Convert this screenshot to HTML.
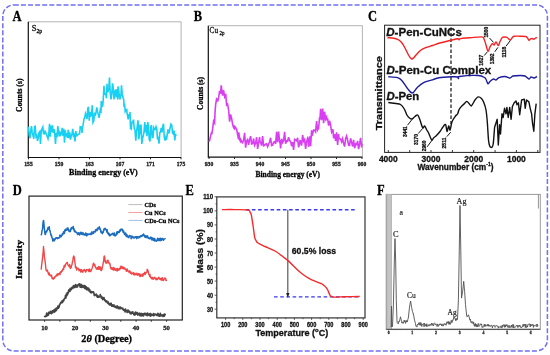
<!DOCTYPE html>
<html><head><meta charset="utf-8"><style>
html,body{margin:0;padding:0;background:#fff;}
svg{display:block;will-change:transform;filter:blur(0.3px);}
text{stroke:#111;stroke-width:0.3px;paint-order:stroke;}
</style></head><body>
<svg width="550" height="355" viewBox="0 0 550 355">
<rect width="550" height="355" fill="#fff"/>
<rect x="2.8" y="4.9" width="544.6" height="346.0" rx="11" ry="11" fill="none" stroke="#7070f2" stroke-width="1.5" stroke-dasharray="5 2.1"/>
<text transform="translate(12.5,20.6) scale(0.9,1)" font-family='"Liberation Serif", serif' font-size="13.9" font-weight="bold">A</text>
<text transform="translate(193.8,20.6) scale(0.9,1)" font-family='"Liberation Serif", serif' font-size="13.9" font-weight="bold">B</text>
<text transform="translate(367.9,20.6) scale(0.9,1)" font-family='"Liberation Serif", serif' font-size="13.9" font-weight="bold">C</text>
<text transform="translate(12.7,194.6) scale(0.9,1)" font-family='"Liberation Serif", serif' font-size="13.9" font-weight="bold">D</text>
<text transform="translate(185.6,194.6) scale(0.9,1)" font-family='"Liberation Serif", serif' font-size="13.9" font-weight="bold">E</text>
<text transform="translate(376.9,194.6) scale(0.9,1)" font-family='"Liberation Serif", serif' font-size="13.9" font-weight="bold">F</text>
<path d="M28.3,21.8 H181.1 V157.5" fill="none" stroke="#a0a0a0" stroke-width="0.8"/>
<path d="M28.3,21.8 V157.5 H181.1" fill="none" stroke="#111" stroke-width="1.2"/>
<line x1="28.5" y1="157.5" x2="28.5" y2="159.3" stroke="#111" stroke-width="0.9"/>
<text x="28.5" y="166" font-family='"Liberation Serif", serif' font-size="5.6" font-weight="bold" text-anchor="middle" fill="#222" textLength="8.4" lengthAdjust="spacingAndGlyphs">155</text>
<line x1="59.0" y1="157.5" x2="59.0" y2="159.3" stroke="#111" stroke-width="0.9"/>
<text x="59.0" y="166" font-family='"Liberation Serif", serif' font-size="5.6" font-weight="bold" text-anchor="middle" fill="#222" textLength="8.4" lengthAdjust="spacingAndGlyphs">159</text>
<line x1="89.5" y1="157.5" x2="89.5" y2="159.3" stroke="#111" stroke-width="0.9"/>
<text x="89.5" y="166" font-family='"Liberation Serif", serif' font-size="5.6" font-weight="bold" text-anchor="middle" fill="#222" textLength="8.4" lengthAdjust="spacingAndGlyphs">163</text>
<line x1="120.0" y1="157.5" x2="120.0" y2="159.3" stroke="#111" stroke-width="0.9"/>
<text x="120.0" y="166" font-family='"Liberation Serif", serif' font-size="5.6" font-weight="bold" text-anchor="middle" fill="#222" textLength="8.4" lengthAdjust="spacingAndGlyphs">167</text>
<line x1="150.5" y1="157.5" x2="150.5" y2="159.3" stroke="#111" stroke-width="0.9"/>
<text x="150.5" y="166" font-family='"Liberation Serif", serif' font-size="5.6" font-weight="bold" text-anchor="middle" fill="#222" textLength="8.4" lengthAdjust="spacingAndGlyphs">171</text>
<line x1="181.0" y1="157.5" x2="181.0" y2="159.3" stroke="#111" stroke-width="0.9"/>
<text x="181.0" y="166" font-family='"Liberation Serif", serif' font-size="5.6" font-weight="bold" text-anchor="middle" fill="#222" textLength="8.4" lengthAdjust="spacingAndGlyphs">175</text>
<text x="69.1" y="174.6" font-family='"Liberation Serif", serif' font-size="8.2" font-weight="bold" text-anchor="start" fill="#000" textLength="68.7" lengthAdjust="spacingAndGlyphs">Binding energy (eV)</text>
<text transform="translate(22.2,95.3) rotate(-90)" x="0" y="0" font-family='"Liberation Serif", serif' font-size="7.6" font-weight="bold" text-anchor="middle" fill="#000" textLength="33.5" lengthAdjust="spacingAndGlyphs">Counts (s)</text>
<text x="31.7" y="30.8" font-family='"Liberation Serif", serif' font-size="8.4" fill="#111" stroke="#111" stroke-width="0.15">S<tspan font-size="5.6" dy="2.4" dx="0.2">2p</tspan></text>
<path d="M28.5,126.6 L29.2,135.0 L30.0,138.2 L30.8,130.3 L31.5,126.1 L32.2,132.7 L33.0,135.5 L33.8,138.7 L34.5,126.7 L35.2,126.3 L36.0,136.7 L36.8,135.5 L37.5,141.0 L38.2,138.1 L39.0,132.5 L39.8,131.6 L40.5,144.0 L41.2,131.5 L42.0,128.9 L42.8,127.1 L43.5,133.5 L44.2,133.8 L45.0,131.2 L45.8,132.7 L46.5,134.4 L47.2,136.6 L48.0,138.7 L48.8,134.1 L49.5,123.7 L50.2,136.6 L51.0,125.6 L51.8,132.1 L52.5,125.3 L53.2,133.0 L54.0,129.0 L54.8,134.1 L55.5,144.0 L56.2,132.7 L57.0,137.4 L57.8,126.1 L58.5,131.5 L59.2,136.4 L60.0,132.5 L60.8,134.9 L61.5,133.5 L62.2,127.8 L63.0,135.9 L63.8,128.8 L64.5,142.7 L65.2,130.4 L66.0,136.6 L66.8,133.0 L67.5,138.0 L68.2,129.9 L69.0,138.2 L69.8,132.4 L70.5,139.6 L71.2,136.2 L72.0,133.7 L72.8,128.9 L73.5,137.0 L74.2,135.4 L75.0,141.5 L75.8,131.0 L76.5,135.9 L77.2,135.6 L78.0,134.5 L78.8,134.1 L79.5,133.9 L80.0,129.9 L80.2,126.7 L81.0,126.9 L81.8,129.1 L82.0,132.9 L82.5,127.6 L83.2,124.2 L84.0,119.0 L84.8,117.4 L85.5,113.5 L86.2,115.3 L87.0,119.2 L87.8,108.5 L88.5,106.7 L89.2,120.7 L90.0,111.9 L90.8,115.9 L91.5,115.5 L92.2,105.3 L93.0,122.3 L93.8,120.7 L94.5,112.6 L95.2,115.7 L96.0,112.7 L96.8,107.4 L97.5,111.4 L98.2,113.9 L99.0,117.8 L99.8,113.4 L100.5,107.8 L101.0,113.0 L101.2,101.1 L102.0,106.5 L102.8,105.4 L103.5,95.3 L104.0,85.7 L104.2,89.8 L105.0,94.2 L105.8,94.2 L106.5,98.1 L107.0,83.8 L107.2,89.0 L108.0,92.2 L108.8,87.9 L109.5,77.6 L110.2,92.7 L111.0,99.3 L111.8,93.4 L112.5,83.3 L113.0,85.9 L113.2,89.3 L114.0,99.4 L114.8,91.9 L115.5,89.6 L116.2,97.4 L117.0,89.2 L117.8,99.6 L118.0,86.4 L118.5,88.0 L119.2,95.0 L120.0,99.4 L120.8,96.2 L121.0,94.6 L121.5,85.4 L122.2,93.9 L123.0,97.2 L123.8,100.3 L124.0,107.0 L124.5,103.6 L125.2,111.4 L126.0,109.8 L126.8,109.6 L127.0,112.6 L127.5,115.4 L128.2,119.4 L129.0,114.2 L129.8,117.2 L130.0,111.9 L130.5,128.3 L131.2,129.0 L132.0,122.1 L132.8,122.0 L133.5,119.6 L134.2,128.4 L135.0,130.1 L135.8,140.6 L136.5,131.5 L137.2,126.8 L138.0,120.4 L138.8,139.3 L139.5,133.6 L140.0,124.6 L140.2,133.9 L141.0,124.6 L141.8,144.0 L142.5,138.8 L143.2,136.0 L144.0,132.1 L144.8,122.0 L145.5,132.3 L146.2,124.9 L147.0,136.1 L147.8,122.0 L148.5,128.3 L149.2,139.3 L150.0,141.5 L150.8,126.9 L151.5,125.0 L152.2,137.6 L153.0,137.4 L153.8,127.9 L154.5,129.4 L155.2,129.4 L156.0,126.8 L156.8,129.5 L157.5,139.5 L158.2,136.6 L159.0,143.7 L159.8,132.6 L160.5,132.3 L161.2,127.9 L162.0,132.4 L162.8,126.2 L163.5,123.8 L164.2,136.6 L165.0,140.5 L165.8,137.4 L166.5,139.9 L167.2,134.3 L168.0,129.3 L168.8,133.4 L169.5,131.1 L170.2,127.2 L171.0,124.2 L171.8,125.3 L172.5,133.0 L173.2,133.8 L174.0,130.5 L174.8,140.4 L175.5,133.9 L176.0,136.0" fill="none" stroke="#18d0f2" stroke-width="1.6" stroke-linejoin="miter"/>
<path d="M208.3,25.7 H362.4 V157.2" fill="none" stroke="#a0a0a0" stroke-width="0.8"/>
<path d="M208.3,25.7 V157.2 H362.4" fill="none" stroke="#111" stroke-width="1.2"/>
<line x1="209.0" y1="157.2" x2="209.0" y2="159.0" stroke="#111" stroke-width="0.9"/>
<text x="209.0" y="166.3" font-family='"Liberation Serif", serif' font-size="5.6" font-weight="bold" text-anchor="middle" fill="#222" textLength="8.4" lengthAdjust="spacingAndGlyphs">930</text>
<line x1="234.5" y1="157.2" x2="234.5" y2="159.0" stroke="#111" stroke-width="0.9"/>
<text x="234.5" y="166.3" font-family='"Liberation Serif", serif' font-size="5.6" font-weight="bold" text-anchor="middle" fill="#222" textLength="8.4" lengthAdjust="spacingAndGlyphs">935</text>
<line x1="260.0" y1="157.2" x2="260.0" y2="159.0" stroke="#111" stroke-width="0.9"/>
<text x="260.0" y="166.3" font-family='"Liberation Serif", serif' font-size="5.6" font-weight="bold" text-anchor="middle" fill="#222" textLength="8.4" lengthAdjust="spacingAndGlyphs">940</text>
<line x1="285.5" y1="157.2" x2="285.5" y2="159.0" stroke="#111" stroke-width="0.9"/>
<text x="285.5" y="166.3" font-family='"Liberation Serif", serif' font-size="5.6" font-weight="bold" text-anchor="middle" fill="#222" textLength="8.4" lengthAdjust="spacingAndGlyphs">945</text>
<line x1="311.0" y1="157.2" x2="311.0" y2="159.0" stroke="#111" stroke-width="0.9"/>
<text x="311.0" y="166.3" font-family='"Liberation Serif", serif' font-size="5.6" font-weight="bold" text-anchor="middle" fill="#222" textLength="8.4" lengthAdjust="spacingAndGlyphs">950</text>
<line x1="336.5" y1="157.2" x2="336.5" y2="159.0" stroke="#111" stroke-width="0.9"/>
<text x="336.5" y="166.3" font-family='"Liberation Serif", serif' font-size="5.6" font-weight="bold" text-anchor="middle" fill="#222" textLength="8.4" lengthAdjust="spacingAndGlyphs">955</text>
<line x1="362.0" y1="157.2" x2="362.0" y2="159.0" stroke="#111" stroke-width="0.9"/>
<text x="362.0" y="166.3" font-family='"Liberation Serif", serif' font-size="5.6" font-weight="bold" text-anchor="middle" fill="#222" textLength="8.4" lengthAdjust="spacingAndGlyphs">960</text>
<text x="255.5" y="176.8" font-family='"Liberation Serif", serif' font-size="7.8" font-weight="bold" text-anchor="start" fill="#000" textLength="64.5" lengthAdjust="spacingAndGlyphs">Binding energy (eV)</text>
<text transform="translate(203.2,93.5) rotate(-90)" x="0" y="0" font-family='"Liberation Serif", serif' font-size="7.5" font-weight="bold" text-anchor="middle" fill="#000" textLength="33" lengthAdjust="spacingAndGlyphs">Counts (s)</text>
<text transform="translate(209.6,32.9) scale(0.88,1)" font-family='"Liberation Serif", serif' font-size="8.3" fill="#111" stroke="#111" stroke-width="0.15">Cu<tspan font-size="5.6" dy="2.2" dx="1.6">2p</tspan></text>
<path d="M208.6,141.4 L209.6,140.7 L210.6,135.9 L211.6,132.2 L211.8,134.4 L212.6,128.8 L213.6,121.1 L214.6,123.0 L215.0,112.9 L215.6,104.9 L216.6,98.8 L217.4,99.4 L217.6,101.5 L218.6,97.9 L219.6,90.9 L220.6,93.7 L221.2,85.4 L221.6,88.4 L222.6,95.7 L223.0,92.6 L223.6,90.3 L224.6,96.7 L225.6,94.4 L225.7,93.9 L226.4,102.6 L226.6,105.1 L227.6,104.2 L228.6,110.0 L229.6,121.6 L230.6,114.4 L231.6,118.4 L232.6,124.3 L233.6,127.6 L234.3,128.5 L234.6,126.5 L235.6,127.5 L236.5,129.9 L236.6,128.9 L237.6,134.9 L238.6,139.2 L238.8,132.3 L239.6,139.7 L240.5,141.3 L240.6,139.4 L241.6,141.2 L242.6,142.6 L243.6,140.4 L244.6,132.9 L245.6,147.7 L246.6,141.0 L247.6,139.5 L248.6,144.8 L249.6,139.6 L250.6,136.2 L251.6,143.9 L252.6,143.6 L253.6,138.5 L254.6,145.3 L255.6,143.3 L256.6,137.2 L257.6,148.9 L258.6,142.8 L259.6,137.1 L260.0,141.9 L260.6,142.2 L261.6,145.6 L262.6,136.1 L263.6,145.8 L264.6,145.3 L265.6,144.3 L266.6,143.9 L267.6,146.7 L268.6,144.2 L269.6,141.8 L270.6,137.8 L271.6,145.6 L272.6,145.1 L273.6,142.2 L274.6,141.6 L275.6,143.9 L276.6,131.7 L277.6,142.1 L278.6,131.6 L279.6,141.7 L280.0,141.4 L280.6,148.4 L281.6,138.8 L282.6,142.5 L283.6,140.5 L284.6,131.8 L285.6,143.8 L286.6,140.8 L287.6,141.2 L288.6,137.1 L289.6,140.8 L290.6,141.3 L291.6,146.2 L292.6,142.2 L293.6,149.8 L294.6,139.4 L295.6,140.0 L296.6,140.9 L297.6,137.8 L298.6,147.3 L299.6,143.8 L300.0,140.0 L300.6,141.5 L301.6,145.6 L302.6,135.0 L303.6,141.1 L304.6,139.4 L305.6,148.9 L306.6,141.6 L307.6,138.1 L308.0,139.1 L308.6,146.8 L309.6,136.4 L310.6,146.2 L311.6,130.2 L312.0,135.9 L312.6,134.0 L313.6,130.1 L314.6,130.1 L315.6,131.8 L316.0,127.5 L316.6,121.0 L317.6,130.0 L318.6,128.3 L319.6,117.3 L320.0,119.3 L320.6,108.8 L321.6,120.2 L322.6,108.6 L323.0,112.6 L323.6,123.3 L324.6,111.7 L325.6,119.1 L326.6,116.9 L327.0,120.5 L327.6,118.4 L328.6,125.7 L329.6,120.8 L330.6,125.2 L331.6,132.0 L332.6,129.9 L333.0,130.0 L333.6,138.2 L334.6,134.1 L335.6,140.8 L336.6,132.3 L337.6,144.9 L338.6,134.1 L339.0,138.6 L339.6,138.6 L340.6,139.0 L341.6,141.7 L342.6,138.6 L343.6,143.6 L344.6,146.6 L345.6,138.7 L346.6,136.0 L347.6,140.1 L348.6,145.2 L349.6,145.4 L350.0,141.8 L350.6,138.3 L351.6,142.4 L352.6,146.5 L353.6,139.9 L354.6,148.2 L355.6,144.0 L356.6,144.5 L357.6,140.9 L358.6,149.1 L359.6,144.0 L360.6,137.9 L361.6,147.4 L362.0,143.7" fill="none" stroke="#d93ef2" stroke-width="1.6" stroke-linejoin="miter"/>
<rect x="384.6" y="25.2" width="155.39999999999998" height="127.2" fill="none" stroke="#222" stroke-width="1"/>
<line x1="388.3" y1="152.4" x2="388.3" y2="150.0" stroke="#222" stroke-width="0.9"/>
<line x1="409.7" y1="152.4" x2="409.7" y2="150.0" stroke="#222" stroke-width="0.9"/>
<line x1="431.0" y1="152.4" x2="431.0" y2="150.0" stroke="#222" stroke-width="0.9"/>
<line x1="452.4" y1="152.4" x2="452.4" y2="150.0" stroke="#222" stroke-width="0.9"/>
<line x1="473.7" y1="152.4" x2="473.7" y2="150.0" stroke="#222" stroke-width="0.9"/>
<line x1="495.1" y1="152.4" x2="495.1" y2="150.0" stroke="#222" stroke-width="0.9"/>
<line x1="516.4" y1="152.4" x2="516.4" y2="150.0" stroke="#222" stroke-width="0.9"/>
<line x1="537.8" y1="152.4" x2="537.8" y2="150.0" stroke="#222" stroke-width="0.9"/>
<text x="388.3" y="161.6" font-family='"Liberation Sans", sans-serif' font-size="8.3" font-weight="bold" text-anchor="middle" fill="#111" textLength="18.8" lengthAdjust="spacingAndGlyphs">4000</text>
<text x="431.0" y="161.6" font-family='"Liberation Sans", sans-serif' font-size="8.3" font-weight="bold" text-anchor="middle" fill="#111" textLength="18.8" lengthAdjust="spacingAndGlyphs">3000</text>
<text x="473.7" y="161.6" font-family='"Liberation Sans", sans-serif' font-size="8.3" font-weight="bold" text-anchor="middle" fill="#111" textLength="18.8" lengthAdjust="spacingAndGlyphs">2000</text>
<text x="516.4" y="161.6" font-family='"Liberation Sans", sans-serif' font-size="8.3" font-weight="bold" text-anchor="middle" fill="#111" textLength="18.8" lengthAdjust="spacingAndGlyphs">1000</text>
<text x="417.4" y="169.7" font-family='"Liberation Sans", sans-serif' font-size="8.3" font-weight="bold" fill="#111">Wavenumber (cm<tspan font-size="5" dy="-3.6">-1</tspan><tspan dy="3.6">)</tspan></text>
<text transform="translate(381.6,93.2) rotate(-90)" x="0" y="0" font-family='"Liberation Sans", sans-serif' font-size="8.6" font-weight="bold" text-anchor="middle" fill="#111" textLength="74" lengthAdjust="spacingAndGlyphs">Transmittance</text>
<text x="386.3" y="35.5" font-family='"Liberation Sans", sans-serif' font-size="10.4" font-weight="bold" textLength="75.5" lengthAdjust="spacingAndGlyphs" fill="#111"><tspan font-style="italic">D</tspan>-Pen-CuNCs</text>
<text x="386.5" y="74.3" font-family='"Liberation Sans", sans-serif' font-size="10.2" font-weight="bold" textLength="104.8" lengthAdjust="spacingAndGlyphs" fill="#111"><tspan font-style="italic">D</tspan>-Pen-Cu Complex</text>
<text x="386.5" y="100.2" font-family='"Liberation Sans", sans-serif' font-size="10.4" font-weight="bold" textLength="32.8" lengthAdjust="spacingAndGlyphs" fill="#111"><tspan font-style="italic">D</tspan>-Pen</text>
<line x1="451" y1="27.5" x2="451" y2="124" stroke="#222" stroke-width="1.3" stroke-dasharray="3.4 2.1"/>
<path d="M387.50,37.70 C388.58,37.80 392.12,37.92 394.00,38.30 C395.88,38.68 397.47,39.22 398.80,40.00 C400.13,40.78 400.97,41.67 402.00,43.00 C403.03,44.33 403.92,46.00 405.00,48.00 C406.08,50.00 407.40,53.17 408.50,55.00 C409.60,56.83 410.68,58.58 411.60,59.00 C412.52,59.42 413.27,58.17 414.00,57.50 C414.73,56.83 414.83,56.25 416.00,55.00 C417.17,53.75 419.33,51.25 421.00,50.00 C422.67,48.75 424.07,48.25 426.00,47.50 C427.93,46.75 430.60,46.17 432.60,45.50 C434.60,44.83 436.10,44.08 438.00,43.50 C439.90,42.92 442.00,42.50 444.00,42.00 C446.00,41.50 448.00,41.00 450.00,40.50 C452.00,40.00 454.67,39.32 456.00,39.00 C457.33,38.68 457.50,38.47 458.00,38.60 C458.50,38.73 458.58,39.80 459.00,39.80 C459.42,39.80 458.67,38.93 460.50,38.60 C462.33,38.27 466.45,38.08 470.00,37.80 C473.55,37.52 479.47,36.70 481.80,36.90 C484.13,37.10 483.30,37.65 484.00,39.00 C484.70,40.35 485.33,42.97 486.00,45.00 C486.67,47.03 487.33,50.87 488.00,51.20 C488.67,51.53 489.28,48.25 490.00,47.00 C490.72,45.75 491.60,44.03 492.30,43.70 C493.00,43.37 493.58,45.30 494.20,45.00 C494.82,44.70 495.32,41.80 496.00,41.90 C496.68,42.00 497.63,45.67 498.30,45.60 C498.97,45.53 499.33,42.85 500.00,41.50 C500.67,40.15 501.47,38.25 502.30,37.50 C503.13,36.75 504.18,37.00 505.00,37.00 C505.82,37.00 506.32,37.00 507.20,37.50 C508.08,38.00 509.50,39.92 510.30,40.00 C511.10,40.08 511.38,38.62 512.00,38.00 C512.62,37.38 512.67,36.60 514.00,36.30 C515.33,36.00 518.05,36.17 520.00,36.20 C521.95,36.23 524.45,36.20 525.70,36.50 C526.95,36.80 526.95,37.35 527.50,38.00 C528.05,38.65 528.50,40.23 529.00,40.40 C529.50,40.57 530.00,39.32 530.50,39.00 C531.00,38.68 531.42,38.47 532.00,38.50 C532.58,38.53 533.42,39.28 534.00,39.20 C534.58,39.12 535.00,38.28 535.50,38.00 C536.00,37.72 536.75,37.58 537.00,37.50" fill="none" stroke="#f52222" stroke-width="1.4" stroke-linejoin="round"/>
<path d="M388.30,76.80 C389.83,76.95 395.25,77.08 397.50,77.70 C399.75,78.32 400.17,78.75 401.80,80.50 C403.43,82.25 405.55,86.12 407.30,88.20 C409.05,90.28 410.67,93.08 412.30,93.00 C413.93,92.92 415.22,89.42 417.10,87.70 C418.98,85.98 421.05,84.00 423.60,82.70 C426.15,81.40 429.83,80.73 432.40,79.90 C434.97,79.07 435.73,78.22 439.00,77.70 C442.27,77.18 448.92,76.92 452.00,76.80 C455.08,76.68 456.42,76.72 457.50,77.00 C458.58,77.28 458.17,78.58 458.50,78.50 C458.83,78.42 456.22,77.00 459.50,76.50 C462.78,76.00 474.00,75.30 478.20,75.50 C482.40,75.70 483.32,76.87 484.70,77.70 C486.08,78.53 485.95,79.48 486.50,80.50 C487.05,81.52 487.38,83.68 488.00,83.80 C488.62,83.92 489.28,82.00 490.20,81.20 C491.12,80.40 492.53,79.20 493.50,79.00 C494.47,78.80 495.08,80.22 496.00,80.00 C496.92,79.78 497.50,78.28 499.00,77.70 C500.50,77.12 503.17,76.45 505.00,76.50 C506.83,76.55 508.67,78.08 510.00,78.00 C511.33,77.92 511.33,76.42 513.00,76.00 C514.67,75.58 518.00,75.50 520.00,75.50 C522.00,75.50 523.50,75.42 525.00,76.00 C526.50,76.58 528.00,78.83 529.00,79.00 C530.00,79.17 530.17,77.17 531.00,77.00 C531.83,76.83 533.00,78.08 534.00,78.00 C535.00,77.92 536.50,76.75 537.00,76.50" fill="none" stroke="#1c1c9c" stroke-width="1.4" stroke-linejoin="round"/>
<path d="M388.30,102.50 C389.45,102.65 394.17,103.20 396.00,103.50 C397.83,103.80 399.25,103.67 400.50,104.50 C401.75,105.33 403.34,107.42 404.30,109.00 C405.26,110.58 406.12,113.65 406.90,115.00 C407.68,116.35 408.74,117.40 409.50,118.00 C410.26,118.60 411.18,119.22 412.00,119.00 C412.82,118.78 414.14,117.10 415.00,116.50 C415.86,115.90 416.95,114.47 417.70,115.00 C418.45,115.53 419.25,118.08 420.00,120.00 C420.75,121.92 422.01,126.91 422.70,127.80 C423.39,128.69 424.03,125.65 424.60,125.90 C425.17,126.16 425.92,128.47 426.50,129.50 C427.08,130.53 427.74,131.25 428.50,132.80 C429.26,134.35 430.78,139.10 431.60,139.80 C432.43,140.50 433.34,138.07 434.00,137.50 C434.66,136.93 435.10,136.90 436.00,136.00 C436.90,135.10 438.98,132.81 440.00,131.50 C441.02,130.19 441.96,128.35 442.80,127.30 C443.64,126.25 444.97,123.87 445.60,124.50 C446.23,125.13 446.54,131.28 447.00,131.50 C447.46,131.72 448.23,126.21 448.70,126.00 C449.17,125.79 449.61,130.75 450.10,130.10 C450.60,129.45 451.19,123.81 452.00,121.70 C452.81,119.59 454.66,117.16 455.50,116.00 C456.34,114.84 457.08,114.94 457.60,114.00 C458.12,113.06 458.49,110.77 459.00,109.70 C459.51,108.64 460.16,107.84 461.00,106.90 C461.84,105.96 463.72,104.23 464.60,103.40 C465.49,102.58 466.24,101.39 466.90,101.40 C467.56,101.42 468.32,102.83 469.00,103.50 C469.68,104.17 470.50,106.43 471.40,105.90 C472.30,105.38 474.00,101.35 475.00,100.00 C476.00,98.65 477.12,97.12 478.10,96.90 C479.08,96.68 480.64,97.66 481.50,98.50 C482.36,99.34 483.12,100.78 483.80,102.50 C484.48,104.22 485.48,107.08 486.00,110.00 C486.52,112.92 486.93,117.50 487.30,122.00 C487.68,126.50 488.14,136.40 488.50,140.00 C488.86,143.60 489.23,144.88 489.70,146.00 C490.17,147.12 491.08,147.80 491.60,147.50 C492.12,147.20 492.75,147.03 493.20,144.00 C493.65,140.97 494.39,129.81 494.60,127.30 L496.0,123.0 L497.2,119.3 L498.3,145.0 L499.6,124.8 L500.5,134.0 L502.0,113.8 L503.2,117.5 L504.5,108.3 L506.0,113.8 L506.9,107.4 L508.2,117.5 L509.7,107.4 L511.1,119.3 L512.4,106.5 L514.2,102.8 L516.0,101.0 L517.0,104.7 L518.4,102.8 L519.7,114.7 L521.6,100.0 L524.3,99.2 L525.2,108.3 L526.5,100.0 L528.9,101.9 L530.2,108.3 L531.6,113.8 L532.5,123.0 L533.8,131.2 L534.9,113.8 L536.2,103.7" fill="none" stroke="#111" stroke-width="1.4" stroke-linejoin="round"/>
<text transform="translate(487.6,32.2) rotate(-90)" font-family='"Liberation Sans", sans-serif' font-size="4.8" font-weight="bold" text-anchor="middle" textLength="10.8" lengthAdjust="spacingAndGlyphs" fill="#111">1500</text>
<text transform="translate(483.2,60.3) rotate(-90)" font-family='"Liberation Sans", sans-serif' font-size="4.8" font-weight="bold" text-anchor="middle" textLength="10.8" lengthAdjust="spacingAndGlyphs" fill="#111">1627</text>
<text transform="translate(493.8,58.9) rotate(-90)" font-family='"Liberation Sans", sans-serif' font-size="4.8" font-weight="bold" text-anchor="middle" textLength="10.8" lengthAdjust="spacingAndGlyphs" fill="#111">1392</text>
<text transform="translate(506.2,52.1) rotate(-90)" font-family='"Liberation Sans", sans-serif' font-size="4.8" font-weight="bold" text-anchor="middle" textLength="10.8" lengthAdjust="spacingAndGlyphs" fill="#111">1118</text>
<text transform="translate(406.9,131.6) rotate(-90)" font-family='"Liberation Sans", sans-serif' font-size="4.8" font-weight="bold" text-anchor="middle" textLength="10.8" lengthAdjust="spacingAndGlyphs" fill="#111">3441</text>
<text transform="translate(418.3,139.5) rotate(-90)" font-family='"Liberation Sans", sans-serif' font-size="4.8" font-weight="bold" text-anchor="middle" textLength="10.8" lengthAdjust="spacingAndGlyphs" fill="#111">3170</text>
<text transform="translate(426.2,145.9) rotate(-90)" font-family='"Liberation Sans", sans-serif' font-size="4.8" font-weight="bold" text-anchor="middle" textLength="10.8" lengthAdjust="spacingAndGlyphs" fill="#111">2960</text>
<text transform="translate(446.2,143) rotate(-90)" font-family='"Liberation Sans", sans-serif' font-size="4.8" font-weight="bold" text-anchor="middle" textLength="10.8" lengthAdjust="spacingAndGlyphs" fill="#111">2511</text>
<line x1="489.6" y1="38.1" x2="493.6" y2="42.5" stroke="#111" stroke-width="1"/>
<line x1="484.3" y1="55.5" x2="487.4" y2="51.8" stroke="#111" stroke-width="1"/>
<line x1="494.8" y1="51.8" x2="497.9" y2="47.4" stroke="#111" stroke-width="1"/>
<line x1="506" y1="46.2" x2="510.3" y2="40.6" stroke="#111" stroke-width="1"/>
<line x1="407.5" y1="125.2" x2="412" y2="119.5" stroke="#111" stroke-width="1"/>
<line x1="418.3" y1="133.5" x2="422.7" y2="128.4" stroke="#111" stroke-width="1"/>
<line x1="427.2" y1="146.8" x2="432.3" y2="139.8" stroke="#111" stroke-width="1"/>
<line x1="446.9" y1="136.6" x2="450.7" y2="132.2" stroke="#111" stroke-width="1"/>
<rect x="29.0" y="196.1" width="153.3" height="123.9" fill="none" stroke="#222" stroke-width="1.2"/>
<line x1="44.6" y1="320.0" x2="44.6" y2="321.8" stroke="#222" stroke-width="0.9"/>
<line x1="59.9" y1="320.0" x2="59.9" y2="321.8" stroke="#222" stroke-width="0.9"/>
<line x1="75.1" y1="320.0" x2="75.1" y2="321.8" stroke="#222" stroke-width="0.9"/>
<line x1="90.3" y1="320.0" x2="90.3" y2="321.8" stroke="#222" stroke-width="0.9"/>
<line x1="105.6" y1="320.0" x2="105.6" y2="321.8" stroke="#222" stroke-width="0.9"/>
<line x1="120.8" y1="320.0" x2="120.8" y2="321.8" stroke="#222" stroke-width="0.9"/>
<line x1="136.1" y1="320.0" x2="136.1" y2="321.8" stroke="#222" stroke-width="0.9"/>
<line x1="151.3" y1="320.0" x2="151.3" y2="321.8" stroke="#222" stroke-width="0.9"/>
<line x1="166.6" y1="320.0" x2="166.6" y2="321.8" stroke="#222" stroke-width="0.9"/>
<text x="44.6" y="329.8" font-family='"Liberation Serif", serif' font-size="6.6" font-weight="bold" text-anchor="middle" fill="#222">10</text>
<text x="75.1" y="329.8" font-family='"Liberation Serif", serif' font-size="6.6" font-weight="bold" text-anchor="middle" fill="#222">20</text>
<text x="105.6" y="329.8" font-family='"Liberation Serif", serif' font-size="6.6" font-weight="bold" text-anchor="middle" fill="#222">30</text>
<text x="136.1" y="329.8" font-family='"Liberation Serif", serif' font-size="6.6" font-weight="bold" text-anchor="middle" fill="#222">40</text>
<text x="166.6" y="329.8" font-family='"Liberation Serif", serif' font-size="6.6" font-weight="bold" text-anchor="middle" fill="#222">50</text>
<text x="81.3" y="342" font-family='"Liberation Serif", serif' font-size="10" font-weight="bold" textLength="50.7" lengthAdjust="spacingAndGlyphs">2<tspan font-style="italic">θ</tspan> (Degree)</text>
<text transform="translate(21.5,259.4) rotate(-90)" x="0" y="0" font-family='"Liberation Serif", serif' font-size="8.4" font-weight="bold" text-anchor="middle" fill="#000" textLength="39" lengthAdjust="spacingAndGlyphs">Intensity</text>
<line x1="128.3" y1="204.6" x2="142.5" y2="204.6" stroke="#bdbdbd" stroke-width="1"/>
<text x="144.6" y="206.9" font-family='"Liberation Serif", serif' font-size="6.4" font-weight="bold" text-anchor="start" fill="#000" textLength="11.4" lengthAdjust="spacingAndGlyphs">CDs</text>
<line x1="128.3" y1="212.5" x2="142.5" y2="212.5" stroke="#f4a0a0" stroke-width="1"/>
<text x="144.6" y="214.8" font-family='"Liberation Serif", serif' font-size="6.4" font-weight="bold" text-anchor="start" fill="#000" textLength="21" lengthAdjust="spacingAndGlyphs">Cu NCs</text>
<line x1="128.3" y1="220.4" x2="142.5" y2="220.4" stroke="#9fc0e6" stroke-width="1"/>
<text x="144.6" y="222.7" font-family='"Liberation Serif", serif' font-size="6.4" font-weight="bold" text-anchor="start" fill="#000" textLength="34.9" lengthAdjust="spacingAndGlyphs">CDs-Cu NCs</text>
<path d="M41.2,235.4 L41.6,233.6 L42.0,230.9 L42.4,229.4 L42.6,228.1 L42.8,225.0 L43.2,221.4 L43.5,220.6 L43.6,220.5 L44.0,224.3 L44.3,228.4 L44.4,228.6 L44.8,232.6 L45.2,234.5 L45.6,233.9 L46.0,231.5 L46.4,231.9 L46.8,231.6 L47.0,230.0 L47.2,230.5 L47.6,229.7 L48.0,227.4 L48.4,229.0 L48.8,227.9 L49.0,227.2 L49.2,226.7 L49.6,230.5 L50.0,230.6 L50.4,232.7 L50.8,234.5 L51.0,234.2 L51.2,235.9 L51.6,235.6 L52.0,238.1 L52.4,238.3 L52.8,241.1 L53.0,240.7 L53.2,239.1 L53.6,238.9 L54.0,238.9 L54.4,240.8 L54.8,239.0 L55.2,239.3 L55.6,238.0 L56.0,238.4 L56.4,237.7 L56.5,237.9 L56.8,238.1 L57.2,237.8 L57.6,238.6 L58.0,237.7 L58.4,238.2 L58.8,237.7 L59.2,237.9 L59.6,236.7 L60.0,234.9 L60.4,236.8 L60.8,236.9 L61.2,236.5 L61.6,235.2 L62.0,235.4 L62.4,233.7 L62.5,234.8 L62.8,234.3 L63.2,232.9 L63.6,231.7 L64.0,233.5 L64.4,233.3 L64.8,230.0 L65.0,231.3 L65.2,230.5 L65.6,229.3 L66.0,229.2 L66.4,230.2 L66.8,230.1 L67.2,228.1 L67.6,229.2 L68.0,227.9 L68.4,230.4 L68.8,229.6 L69.2,231.6 L69.6,231.3 L70.0,230.5 L70.4,231.6 L70.8,229.1 L71.2,228.0 L71.5,229.1 L71.6,227.5 L72.0,227.6 L72.4,227.8 L72.8,227.9 L73.0,227.1 L73.2,226.4 L73.6,229.6 L74.0,228.6 L74.4,231.3 L74.8,231.8 L75.0,230.9 L75.2,231.0 L75.6,231.6 L76.0,232.3 L76.4,232.4 L76.8,232.7 L77.2,233.2 L77.6,234.5 L77.8,233.3 L78.0,233.1 L78.4,234.1 L78.8,232.7 L79.2,232.9 L79.6,235.0 L80.0,233.7 L80.4,233.9 L80.8,232.3 L81.2,233.6 L81.6,234.2 L82.0,232.6 L82.4,234.4 L82.8,234.5 L83.2,232.9 L83.6,234.7 L84.0,234.2 L84.4,235.0 L84.8,234.0 L84.9,234.7 L85.2,235.2 L85.6,233.1 L86.0,233.2 L86.4,235.0 L86.8,235.9 L87.2,233.8 L87.6,234.4 L88.0,234.8 L88.4,234.0 L88.8,234.1 L89.2,233.9 L89.6,234.4 L90.0,234.6 L90.4,233.5 L90.8,233.5 L91.2,234.5 L91.6,232.1 L92.0,233.5 L92.4,233.8 L92.8,232.3 L93.2,231.9 L93.6,233.4 L94.0,231.5 L94.4,231.8 L94.8,231.5 L95.2,231.9 L95.6,229.7 L96.0,230.0 L96.4,229.6 L96.8,230.7 L97.0,229.4 L97.2,230.4 L97.6,227.9 L98.0,228.0 L98.4,228.6 L98.8,228.9 L99.1,227.4 L99.2,226.8 L99.6,227.3 L100.0,229.3 L100.4,229.1 L100.8,231.8 L101.2,232.7 L101.6,231.5 L102.0,233.1 L102.4,233.6 L102.8,232.4 L103.2,232.3 L103.6,230.3 L104.0,229.0 L104.4,228.8 L104.8,229.7 L105.0,228.3 L105.2,228.3 L105.6,229.0 L106.0,229.5 L106.4,230.0 L106.8,232.0 L107.0,230.7 L107.2,229.8 L107.6,233.1 L108.0,233.4 L108.4,234.3 L108.8,233.1 L109.2,235.2 L109.6,235.7 L109.7,234.2 L110.0,235.2 L110.4,235.5 L110.8,235.0 L111.2,234.6 L111.6,233.9 L112.0,234.0 L112.4,233.7 L112.8,233.2 L113.2,234.8 L113.6,233.9 L114.0,235.4 L114.4,233.1 L114.8,235.7 L115.2,235.1 L115.6,235.8 L115.7,234.9 L116.0,235.4 L116.4,234.1 L116.8,232.0 L117.2,233.9 L117.6,231.8 L118.0,231.8 L118.4,232.5 L118.8,231.8 L119.0,231.4 L119.2,232.6 L119.6,231.3 L120.0,230.1 L120.4,229.4 L120.8,230.9 L121.2,229.3 L121.6,229.3 L122.0,229.1 L122.4,229.3 L122.8,230.9 L123.2,232.3 L123.6,230.9 L124.0,232.8 L124.4,234.3 L124.8,234.4 L125.2,234.9 L125.6,233.0 L126.0,235.3 L126.4,236.5 L126.8,234.6 L127.2,235.7 L127.5,236.6 L127.6,236.9 L128.0,236.6 L128.4,236.8 L128.8,237.8 L129.2,235.5 L129.6,235.7 L130.0,236.0 L130.4,236.0 L130.8,235.9 L131.2,238.7 L131.6,238.4 L132.0,236.1 L132.4,237.4 L132.8,236.9 L133.2,237.0 L133.6,237.1 L134.0,238.1 L134.4,237.9 L134.8,237.3 L135.2,236.8 L135.6,237.3 L136.0,236.7 L136.4,238.1 L136.8,238.6 L137.0,237.9 L137.2,236.6 L137.6,236.7 L138.0,237.1 L138.4,237.6 L138.8,237.9 L139.2,236.5 L139.6,237.6 L140.0,236.9 L140.4,236.1 L140.8,235.7 L141.0,236.0 L141.2,236.5 L141.6,235.6 L142.0,236.3 L142.4,235.4 L142.8,234.7 L143.2,235.4 L143.5,235.4 L143.6,234.0 L144.0,235.2 L144.4,235.4 L144.8,236.9 L145.2,237.3 L145.6,235.8 L146.0,237.5 L146.4,237.4 L146.8,235.9 L147.2,236.7 L147.6,235.9 L148.0,238.1 L148.4,237.9 L148.7,237.8 L148.8,238.4 L149.2,238.3 L149.6,238.7 L150.0,238.3 L150.4,237.2 L150.8,238.8 L151.2,237.3 L151.6,237.9 L152.0,240.0 L152.4,238.0 L152.8,238.3 L153.2,238.5 L153.5,240.2 L153.6,238.9 L154.0,238.4 L154.4,240.9 L154.8,238.7 L155.2,240.8 L155.6,240.3 L156.0,240.8 L156.4,241.1 L156.8,239.9 L157.2,240.6 L157.6,238.3 L158.0,240.4 L158.4,239.6 L158.8,240.2 L159.2,238.4 L159.6,240.3 L160.0,240.8 L160.4,238.2 L160.8,238.9 L161.2,239.6 L161.6,240.4 L162.0,238.6 L162.4,238.4 L162.8,238.6 L163.2,239.7 L163.6,240.1 L164.0,239.0 L164.4,238.9 L164.8,238.9 L165.2,238.8 L165.3,239.1" fill="none" stroke="#1c6cc0" stroke-width="1.5" stroke-linejoin="round"/>
<path d="M41.2,269.6 L41.6,265.2 L42.0,262.7 L42.4,258.7 L42.6,257.6 L42.8,255.1 L43.2,251.4 L43.5,246.5 L43.6,248.2 L44.0,251.3 L44.4,256.9 L44.5,257.8 L44.8,259.3 L45.2,262.1 L45.6,265.5 L45.9,269.0 L46.0,269.8 L46.4,270.4 L46.8,271.1 L47.2,269.9 L47.6,271.0 L48.0,272.6 L48.4,273.7 L48.8,274.7 L49.0,274.3 L49.2,273.0 L49.6,274.9 L50.0,275.5 L50.4,275.5 L50.8,274.9 L51.2,276.2 L51.6,275.4 L52.0,278.4 L52.4,278.6 L52.8,278.0 L53.0,277.9 L53.2,279.2 L53.6,277.9 L54.0,278.6 L54.4,278.2 L54.8,277.0 L55.2,276.4 L55.6,276.7 L56.0,275.9 L56.4,274.9 L56.8,275.0 L57.0,275.8 L57.2,274.0 L57.6,273.7 L58.0,275.1 L58.4,273.8 L58.8,274.2 L59.2,273.7 L59.6,273.0 L60.0,274.7 L60.4,272.0 L60.8,272.3 L61.2,271.4 L61.3,272.3 L61.6,271.0 L62.0,270.5 L62.4,271.0 L62.8,269.0 L63.2,269.0 L63.6,269.3 L64.0,266.2 L64.4,265.4 L64.5,266.3 L64.8,266.9 L65.2,265.9 L65.6,264.2 L66.0,263.9 L66.4,262.9 L66.8,263.1 L67.2,262.3 L67.6,263.8 L68.0,265.0 L68.4,265.7 L68.8,265.6 L69.2,266.8 L69.6,264.5 L70.0,265.9 L70.4,268.5 L70.7,267.7 L70.8,266.9 L71.2,267.4 L71.6,265.3 L72.0,264.7 L72.4,262.0 L72.6,261.7 L72.8,260.8 L73.2,257.7 L73.6,256.3 L73.8,256.0 L74.0,256.4 L74.4,258.0 L74.8,261.6 L75.2,264.2 L75.5,267.8 L75.6,267.2 L76.0,267.3 L76.4,267.1 L76.8,270.1 L77.2,268.7 L77.6,268.4 L78.0,268.3 L78.4,268.7 L78.8,269.3 L79.0,270.7 L79.2,269.5 L79.6,269.2 L80.0,270.5 L80.4,269.8 L80.8,272.1 L81.2,269.5 L81.6,270.8 L82.0,271.5 L82.4,270.5 L82.8,272.2 L83.2,270.7 L83.6,270.1 L84.0,270.6 L84.4,269.5 L84.8,270.7 L85.2,270.2 L85.6,272.1 L86.0,271.3 L86.4,270.9 L86.8,269.4 L87.2,270.0 L87.6,269.9 L88.0,269.7 L88.4,269.7 L88.8,271.5 L89.2,269.3 L89.6,268.9 L90.0,271.5 L90.4,270.3 L90.8,271.5 L91.0,269.9 L91.2,270.7 L91.6,269.1 L92.0,268.6 L92.4,267.5 L92.8,265.9 L93.2,263.8 L93.6,263.2 L93.9,263.7 L94.0,264.8 L94.4,265.6 L94.8,264.6 L95.2,266.3 L95.6,267.5 L96.0,267.7 L96.4,269.0 L96.7,268.6 L96.8,269.0 L97.2,268.9 L97.6,267.5 L98.0,269.3 L98.4,269.2 L98.8,266.4 L99.1,267.9 L99.2,269.0 L99.6,268.4 L100.0,266.8 L100.4,269.7 L100.8,267.7 L101.2,270.6 L101.6,270.0 L102.0,269.4 L102.4,266.4 L102.8,265.4 L103.2,262.8 L103.3,262.2 L103.6,261.6 L104.0,257.2 L104.3,255.9 L104.4,258.0 L104.8,257.2 L105.2,261.7 L105.3,260.7 L105.6,262.5 L106.0,263.2 L106.2,263.0 L106.4,262.6 L106.8,263.1 L107.2,260.5 L107.6,261.4 L108.0,260.2 L108.4,262.5 L108.8,263.1 L109.2,263.2 L109.5,264.0 L109.6,262.9 L110.0,264.1 L110.4,267.0 L110.8,268.0 L111.0,268.9 L111.2,269.0 L111.6,267.6 L112.0,268.4 L112.4,269.6 L112.8,269.0 L113.2,267.5 L113.6,270.1 L114.0,270.1 L114.4,267.9 L114.8,269.4 L115.2,269.0 L115.6,270.3 L116.0,268.9 L116.4,268.7 L116.8,269.6 L117.2,271.1 L117.6,268.5 L118.0,269.5 L118.4,269.8 L118.8,270.3 L119.2,268.8 L119.6,268.2 L120.0,269.2 L120.4,268.6 L120.8,266.1 L121.2,268.2 L121.6,266.4 L122.0,266.4 L122.4,268.3 L122.8,267.4 L123.2,268.9 L123.6,267.3 L124.0,268.9 L124.4,267.9 L124.8,268.0 L125.2,269.3 L125.6,269.1 L126.0,269.9 L126.4,271.3 L126.8,270.9 L127.2,269.0 L127.6,270.2 L128.0,271.1 L128.4,271.2 L128.8,272.1 L129.2,271.7 L129.6,270.7 L130.0,272.0 L130.4,273.4 L130.8,272.0 L131.2,273.4 L131.6,274.1 L132.0,273.2 L132.4,273.5 L132.8,273.4 L133.2,272.6 L133.6,274.5 L134.0,273.3 L134.4,274.8 L134.8,273.1 L135.2,274.9 L135.6,274.7 L136.0,274.1 L136.4,273.9 L136.8,273.2 L137.2,275.2 L137.6,274.1 L138.0,275.1 L138.4,273.6 L138.8,273.6 L139.2,273.9 L139.6,276.0 L140.0,274.2 L140.4,276.5 L140.8,275.0 L141.2,275.8 L141.6,275.2 L141.7,275.8 L142.0,274.3 L142.4,274.9 L142.8,276.3 L143.2,273.7 L143.6,274.9 L144.0,273.6 L144.4,273.3 L144.8,272.2 L145.0,273.1 L145.2,274.6 L145.6,273.6 L146.0,273.0 L146.4,272.4 L146.8,272.3 L147.2,269.3 L147.6,269.9 L148.0,270.8 L148.4,272.1 L148.8,274.3 L149.2,274.2 L149.6,276.2 L150.0,274.5 L150.4,276.9 L150.8,277.7 L151.0,277.8 L151.2,278.0 L151.6,278.7 L152.0,277.2 L152.4,279.1 L152.8,277.6 L153.2,278.2 L153.6,279.2 L154.0,278.6 L154.4,277.5 L154.8,277.3 L155.2,277.7 L155.6,278.6 L156.0,279.8 L156.4,279.6 L156.8,278.1 L157.2,278.2 L157.6,279.5 L158.0,278.4 L158.4,278.4 L158.8,277.2 L159.2,277.8 L159.6,278.9 L160.0,279.3 L160.4,279.1 L160.8,278.4 L161.2,280.2 L161.6,279.3 L162.0,277.9 L162.4,277.7 L162.8,280.4 L163.2,280.5 L163.6,280.3 L164.0,279.4 L164.4,278.6 L164.8,277.9 L165.2,278.5 L165.6,278.4 L166.0,280.5 L166.4,280.5 L166.5,279.6" fill="none" stroke="#f04848" stroke-width="1.4" stroke-linejoin="round"/>
<path d="M44.3,315.9 L44.7,316.4 L45.1,316.4 L45.5,316.6 L45.9,315.8 L46.3,316.2 L46.7,313.1 L47.1,314.3 L47.5,315.7 L47.9,314.5 L48.3,315.1 L48.7,312.4 L49.0,313.5 L49.1,312.6 L49.5,313.4 L49.9,313.3 L50.3,311.3 L50.7,311.8 L51.1,311.8 L51.5,313.7 L51.9,313.0 L52.3,310.9 L52.7,312.7 L53.1,310.5 L53.5,311.8 L53.9,310.0 L54.2,310.6 L54.3,312.2 L54.7,309.6 L55.1,309.2 L55.5,311.3 L55.9,310.5 L56.3,308.2 L56.7,309.9 L57.1,308.1 L57.5,308.2 L57.9,306.2 L58.3,308.2 L58.7,306.9 L59.0,306.4 L59.1,307.1 L59.5,304.8 L59.9,304.5 L60.3,303.4 L60.7,302.8 L61.1,302.1 L61.5,302.4 L61.9,302.9 L62.3,300.5 L62.7,302.1 L63.1,300.6 L63.5,300.0 L63.6,300.8 L63.9,299.9 L64.3,298.7 L64.7,298.5 L65.1,298.5 L65.5,295.7 L65.9,298.0 L66.3,294.2 L66.7,295.8 L67.0,294.8 L67.1,292.8 L67.5,294.6 L67.9,292.6 L68.3,292.7 L68.7,290.2 L69.1,289.7 L69.5,289.5 L69.9,291.3 L70.3,288.3 L70.7,288.8 L71.1,289.7 L71.5,289.5 L71.9,287.4 L72.3,287.2 L72.7,287.5 L73.1,288.0 L73.5,285.7 L73.9,287.5 L74.3,287.4 L74.7,287.3 L75.0,285.6 L75.1,287.4 L75.5,284.6 L75.9,285.3 L76.3,286.1 L76.7,287.0 L77.1,285.0 L77.5,286.8 L77.9,285.5 L78.3,284.7 L78.7,284.6 L79.0,284.8 L79.1,283.8 L79.5,284.1 L79.9,286.0 L80.3,287.1 L80.7,284.5 L81.1,284.3 L81.5,287.4 L81.9,286.1 L82.3,285.8 L82.7,285.4 L83.0,286.4 L83.1,287.4 L83.5,286.4 L83.9,286.5 L84.3,285.6 L84.7,288.5 L85.1,285.9 L85.5,287.6 L85.9,288.9 L86.3,286.9 L86.7,289.0 L87.1,289.9 L87.3,288.7 L87.5,289.7 L87.9,287.8 L88.3,289.1 L88.7,288.5 L89.1,291.0 L89.5,289.5 L89.9,290.3 L90.3,292.4 L90.7,292.2 L91.1,292.9 L91.5,291.5 L91.9,291.9 L92.0,292.2 L92.3,292.2 L92.7,291.9 L93.1,292.6 L93.5,292.0 L93.9,293.1 L94.3,295.4 L94.7,295.6 L95.1,294.8 L95.5,294.8 L95.9,294.6 L96.3,294.1 L96.7,295.5 L97.1,296.7 L97.5,297.1 L97.9,295.6 L98.3,297.1 L98.7,297.2 L99.1,297.0 L99.5,296.7 L99.9,296.5 L100.3,294.7 L100.7,296.4 L101.1,296.1 L101.2,297.0 L101.5,298.1 L101.9,298.1 L102.3,297.2 L102.7,299.6 L103.1,298.9 L103.5,299.0 L103.9,297.5 L104.3,299.5 L104.5,299.3 L104.7,300.2 L105.1,299.9 L105.5,301.3 L105.9,301.1 L106.3,301.9 L106.7,300.8 L107.1,302.1 L107.5,302.7 L107.9,303.3 L108.3,302.1 L108.6,303.1 L108.7,304.0 L109.1,303.7 L109.5,304.9 L109.9,305.0 L110.3,303.9 L110.7,304.1 L111.1,303.2 L111.5,305.6 L111.9,306.2 L112.3,304.9 L112.7,305.8 L113.1,306.2 L113.5,306.4 L113.9,304.9 L114.0,306.3 L114.3,306.4 L114.7,306.8 L115.1,306.2 L115.5,307.0 L115.9,307.7 L116.3,307.4 L116.7,307.8 L117.1,305.8 L117.5,306.4 L117.9,307.5 L118.3,308.3 L118.7,307.1 L119.1,308.7 L119.5,308.7 L119.9,307.0 L120.3,308.6 L120.4,308.4 L120.7,307.4 L121.1,307.8 L121.5,308.5 L121.9,308.3 L122.3,308.5 L122.7,308.1 L123.1,309.7 L123.5,309.5 L123.9,310.4 L124.3,310.5 L124.7,309.6 L125.1,311.8 L125.5,309.1 L125.9,310.6 L126.3,310.3 L126.7,310.9 L127.0,310.9 L127.1,312.4 L127.5,311.0 L127.9,310.1 L128.3,312.0 L128.7,310.5 L129.1,312.1 L129.5,311.5 L129.9,312.4 L130.3,313.7 L130.7,313.4 L131.1,312.2 L131.5,313.6 L131.9,313.2 L132.3,312.4 L132.7,311.8 L133.1,313.4 L133.5,313.4 L133.9,314.8 L134.3,314.9 L134.6,313.6 L134.7,313.0 L135.1,314.8 L135.5,312.0 L135.9,312.4 L136.3,313.9 L136.7,314.1 L137.1,312.6 L137.5,314.2 L137.9,315.1 L138.3,313.5 L138.7,313.7 L139.1,313.1 L139.5,313.4 L139.9,315.6 L140.3,313.7 L140.7,315.6 L141.0,314.6 L141.1,314.5 L141.5,313.5 L141.9,315.8 L142.3,314.3 L142.7,314.0 L143.1,313.7 L143.5,315.9 L143.9,314.3 L144.3,313.7 L144.7,314.3 L145.1,313.2 L145.5,314.8 L145.9,314.3 L146.3,313.8 L146.7,315.4 L147.1,315.6 L147.5,313.0 L147.9,314.7 L148.3,313.9 L148.7,315.0 L149.1,315.5 L149.5,313.8 L149.9,313.9 L150.3,313.5 L150.7,316.2 L151.1,314.0 L151.5,315.0 L151.9,314.6 L152.3,315.2 L152.7,315.1 L153.1,315.5 L153.5,313.5 L153.9,315.6 L154.3,314.1 L154.7,314.9 L155.1,314.3 L155.5,314.2 L155.9,314.9 L156.3,314.7 L156.7,314.4 L157.1,315.6 L157.5,315.2 L157.9,313.4 L158.3,314.1 L158.7,314.8 L159.1,316.2 L159.5,316.2 L159.9,315.1 L160.3,313.4 L160.7,315.9 L161.1,314.7 L161.5,315.2 L161.9,315.7 L162.3,315.4 L162.7,315.0 L163.1,316.4 L163.5,314.7 L163.9,314.7 L164.3,316.2 L164.7,314.1 L165.1,314.4 L165.3,315.4" fill="none" stroke="#444" stroke-width="1.7" stroke-linejoin="round"/>
<rect x="216.8" y="196.9" width="148.2" height="120.99999999999997" fill="none" stroke="#333" stroke-width="1.2"/>
<line x1="216.8" y1="309.2" x2="214.60000000000002" y2="309.2" stroke="#333" stroke-width="0.8"/>
<line x1="216.8" y1="302.2" x2="215.5" y2="302.2" stroke="#333" stroke-width="0.8"/>
<line x1="216.8" y1="295.2" x2="214.60000000000002" y2="295.2" stroke="#333" stroke-width="0.8"/>
<line x1="216.8" y1="288.1" x2="215.5" y2="288.1" stroke="#333" stroke-width="0.8"/>
<line x1="216.8" y1="281.1" x2="214.60000000000002" y2="281.1" stroke="#333" stroke-width="0.8"/>
<line x1="216.8" y1="274.1" x2="215.5" y2="274.1" stroke="#333" stroke-width="0.8"/>
<line x1="216.8" y1="267.1" x2="214.60000000000002" y2="267.1" stroke="#333" stroke-width="0.8"/>
<line x1="216.8" y1="260.0" x2="215.5" y2="260.0" stroke="#333" stroke-width="0.8"/>
<line x1="216.8" y1="253.0" x2="214.60000000000002" y2="253.0" stroke="#333" stroke-width="0.8"/>
<line x1="216.8" y1="246.0" x2="215.5" y2="246.0" stroke="#333" stroke-width="0.8"/>
<line x1="216.8" y1="239.0" x2="214.60000000000002" y2="239.0" stroke="#333" stroke-width="0.8"/>
<line x1="216.8" y1="231.9" x2="215.5" y2="231.9" stroke="#333" stroke-width="0.8"/>
<line x1="216.8" y1="224.9" x2="214.60000000000002" y2="224.9" stroke="#333" stroke-width="0.8"/>
<line x1="216.8" y1="217.9" x2="215.5" y2="217.9" stroke="#333" stroke-width="0.8"/>
<line x1="216.8" y1="210.9" x2="214.60000000000002" y2="210.9" stroke="#333" stroke-width="0.8"/>
<line x1="216.8" y1="203.8" x2="215.5" y2="203.8" stroke="#333" stroke-width="0.8"/>
<line x1="216.8" y1="196.8" x2="214.60000000000002" y2="196.8" stroke="#333" stroke-width="0.8"/>
<text x="213.1" y="311.7" font-family='"Liberation Sans", sans-serif' font-size="7" font-weight="bold" text-anchor="end" fill="#111" textLength="6.0" lengthAdjust="spacingAndGlyphs">30</text>
<text x="213.1" y="297.7" font-family='"Liberation Sans", sans-serif' font-size="7" font-weight="bold" text-anchor="end" fill="#111" textLength="6.0" lengthAdjust="spacingAndGlyphs">40</text>
<text x="213.1" y="283.6" font-family='"Liberation Sans", sans-serif' font-size="7" font-weight="bold" text-anchor="end" fill="#111" textLength="6.0" lengthAdjust="spacingAndGlyphs">50</text>
<text x="213.1" y="269.6" font-family='"Liberation Sans", sans-serif' font-size="7" font-weight="bold" text-anchor="end" fill="#111" textLength="6.0" lengthAdjust="spacingAndGlyphs">60</text>
<text x="213.1" y="255.5" font-family='"Liberation Sans", sans-serif' font-size="7" font-weight="bold" text-anchor="end" fill="#111" textLength="6.0" lengthAdjust="spacingAndGlyphs">70</text>
<text x="213.1" y="241.5" font-family='"Liberation Sans", sans-serif' font-size="7" font-weight="bold" text-anchor="end" fill="#111" textLength="6.0" lengthAdjust="spacingAndGlyphs">80</text>
<text x="213.1" y="227.4" font-family='"Liberation Sans", sans-serif' font-size="7" font-weight="bold" text-anchor="end" fill="#111" textLength="6.0" lengthAdjust="spacingAndGlyphs">90</text>
<text x="213.1" y="213.4" font-family='"Liberation Sans", sans-serif' font-size="7" font-weight="bold" text-anchor="end" fill="#111" textLength="9.8" lengthAdjust="spacingAndGlyphs">100</text>
<text x="213.1" y="199.3" font-family='"Liberation Sans", sans-serif' font-size="7" font-weight="bold" text-anchor="end" fill="#111" textLength="9.8" lengthAdjust="spacingAndGlyphs">110</text>
<line x1="225.6" y1="317.9" x2="225.6" y2="319.9" stroke="#333" stroke-width="0.8"/>
<line x1="234.2" y1="317.9" x2="234.2" y2="319.2" stroke="#333" stroke-width="0.8"/>
<line x1="242.8" y1="317.9" x2="242.8" y2="319.9" stroke="#333" stroke-width="0.8"/>
<line x1="251.4" y1="317.9" x2="251.4" y2="319.2" stroke="#333" stroke-width="0.8"/>
<line x1="260.0" y1="317.9" x2="260.0" y2="319.9" stroke="#333" stroke-width="0.8"/>
<line x1="268.6" y1="317.9" x2="268.6" y2="319.2" stroke="#333" stroke-width="0.8"/>
<line x1="277.2" y1="317.9" x2="277.2" y2="319.9" stroke="#333" stroke-width="0.8"/>
<line x1="285.8" y1="317.9" x2="285.8" y2="319.2" stroke="#333" stroke-width="0.8"/>
<line x1="294.4" y1="317.9" x2="294.4" y2="319.9" stroke="#333" stroke-width="0.8"/>
<line x1="303.0" y1="317.9" x2="303.0" y2="319.2" stroke="#333" stroke-width="0.8"/>
<line x1="311.6" y1="317.9" x2="311.6" y2="319.9" stroke="#333" stroke-width="0.8"/>
<line x1="320.2" y1="317.9" x2="320.2" y2="319.2" stroke="#333" stroke-width="0.8"/>
<line x1="328.8" y1="317.9" x2="328.8" y2="319.9" stroke="#333" stroke-width="0.8"/>
<line x1="337.4" y1="317.9" x2="337.4" y2="319.2" stroke="#333" stroke-width="0.8"/>
<line x1="346.0" y1="317.9" x2="346.0" y2="319.9" stroke="#333" stroke-width="0.8"/>
<line x1="354.6" y1="317.9" x2="354.6" y2="319.2" stroke="#333" stroke-width="0.8"/>
<line x1="363.2" y1="317.9" x2="363.2" y2="319.9" stroke="#333" stroke-width="0.8"/>
<text x="225.6" y="327" font-family='"Liberation Sans", sans-serif' font-size="6.8" font-weight="bold" text-anchor="middle" fill="#111" textLength="9.3" lengthAdjust="spacingAndGlyphs">100</text>
<text x="242.8" y="327" font-family='"Liberation Sans", sans-serif' font-size="6.8" font-weight="bold" text-anchor="middle" fill="#111" textLength="9.3" lengthAdjust="spacingAndGlyphs">200</text>
<text x="260.0" y="327" font-family='"Liberation Sans", sans-serif' font-size="6.8" font-weight="bold" text-anchor="middle" fill="#111" textLength="9.3" lengthAdjust="spacingAndGlyphs">300</text>
<text x="277.2" y="327" font-family='"Liberation Sans", sans-serif' font-size="6.8" font-weight="bold" text-anchor="middle" fill="#111" textLength="9.3" lengthAdjust="spacingAndGlyphs">400</text>
<text x="294.4" y="327" font-family='"Liberation Sans", sans-serif' font-size="6.8" font-weight="bold" text-anchor="middle" fill="#111" textLength="9.3" lengthAdjust="spacingAndGlyphs">500</text>
<text x="311.6" y="327" font-family='"Liberation Sans", sans-serif' font-size="6.8" font-weight="bold" text-anchor="middle" fill="#111" textLength="9.3" lengthAdjust="spacingAndGlyphs">600</text>
<text x="328.8" y="327" font-family='"Liberation Sans", sans-serif' font-size="6.8" font-weight="bold" text-anchor="middle" fill="#111" textLength="9.3" lengthAdjust="spacingAndGlyphs">700</text>
<text x="346.0" y="327" font-family='"Liberation Sans", sans-serif' font-size="6.8" font-weight="bold" text-anchor="middle" fill="#111" textLength="9.3" lengthAdjust="spacingAndGlyphs">800</text>
<text x="363.2" y="327" font-family='"Liberation Sans", sans-serif' font-size="6.8" font-weight="bold" text-anchor="middle" fill="#111" textLength="9.3" lengthAdjust="spacingAndGlyphs">900</text>
<text x="255.4" y="335.6" font-family='"Liberation Sans", sans-serif' font-size="9.2" font-weight="bold" textLength="72.8" lengthAdjust="spacingAndGlyphs" fill="#111">Temperature (<tspan font-size="6" dy="-3.2">o</tspan><tspan dy="3.2">C)</tspan></text>
<text transform="translate(203.2,251.2) rotate(-90)" x="0" y="0" font-family='"Liberation Sans", sans-serif' font-size="9.5" font-weight="bold" text-anchor="middle" fill="#111" textLength="44" lengthAdjust="spacingAndGlyphs">Mass (%)</text>
<line x1="245.7" y1="209.8" x2="356" y2="209.8" stroke="#3838f0" stroke-width="1.4" stroke-dasharray="3.6 2.6"/>
<line x1="274" y1="296.9" x2="360" y2="296.9" stroke="#3838f0" stroke-width="1.4" stroke-dasharray="3.6 2.6"/>
<line x1="287.8" y1="209.8" x2="287.8" y2="294" stroke="#5a5a5a" stroke-width="1.2"/>
<path d="M286.1,293 L289.5,293 L287.8,297.8 Z" fill="#222"/>
<text x="291.8" y="253.6" font-family='"Liberation Sans", sans-serif' font-size="9.5" font-weight="bold" text-anchor="start" fill="#111" textLength="44.3" lengthAdjust="spacingAndGlyphs">60.5% loss</text>
<path d="M222.00,209.60 C224.17,209.60 230.67,209.53 235.00,209.60 C239.33,209.67 245.50,209.60 248.00,210.00 C250.50,210.40 249.45,211.20 250.00,212.00 C250.55,212.80 250.78,212.47 251.30,214.80 C251.82,217.13 252.53,222.25 253.10,226.00 C253.67,229.75 254.22,234.88 254.70,237.30 C255.18,239.72 255.45,239.55 256.00,240.50 C256.55,241.45 256.50,242.00 258.00,243.00 C259.50,244.00 262.17,245.17 265.00,246.50 C267.83,247.83 271.22,248.68 275.00,251.00 C278.78,253.32 284.70,257.98 287.70,260.40 C290.70,262.82 291.25,263.82 293.00,265.50 C294.75,267.18 296.53,269.00 298.20,270.50 C299.87,272.00 301.13,273.13 303.00,274.50 C304.87,275.87 307.40,277.58 309.40,278.70 C311.40,279.82 313.02,280.37 315.00,281.20 C316.98,282.03 319.80,282.98 321.30,283.70 C322.80,284.42 323.18,284.85 324.00,285.50 C324.82,286.15 325.53,286.77 326.20,287.60 C326.87,288.43 327.50,289.52 328.00,290.50 C328.50,291.48 328.52,292.43 329.20,293.50 C329.88,294.57 329.47,296.37 332.10,296.90 C334.73,297.43 340.40,296.77 345.00,296.70 C349.60,296.63 357.25,296.53 359.70,296.50" fill="none" stroke="#f52a2a" stroke-width="1.4" stroke-linejoin="round"/>
<rect x="386.2" y="194.4" width="154.09999999999997" height="134.9" fill="none" stroke="#9a9a9a" stroke-width="1"/>
<rect x="386.2" y="194.4" width="5.2" height="134.9" fill="#c4c4c4"/>
<line x1="386.7" y1="194.4" x2="386.7" y2="329.3" stroke="#a0a0a0" stroke-width="1"/>
<line x1="391.4" y1="194.4" x2="391.4" y2="329.3" stroke="#a8a8a8" stroke-width="0.8"/>
<line x1="386.2" y1="329.3" x2="540.3" y2="329.3" stroke="#444" stroke-width="1"/>
<line x1="538.4" y1="194.6" x2="538.4" y2="208.5" stroke="#888" stroke-width="0.9"/>
<line x1="388.6" y1="329.3" x2="388.6" y2="331.1" stroke="#555" stroke-width="0.5"/>
<line x1="391.0" y1="329.3" x2="391.0" y2="330.2" stroke="#555" stroke-width="0.5"/>
<line x1="393.3" y1="329.3" x2="393.3" y2="330.2" stroke="#555" stroke-width="0.5"/>
<line x1="395.7" y1="329.3" x2="395.7" y2="330.2" stroke="#555" stroke-width="0.5"/>
<line x1="398.1" y1="329.3" x2="398.1" y2="330.2" stroke="#555" stroke-width="0.5"/>
<line x1="400.5" y1="329.3" x2="400.5" y2="330.2" stroke="#555" stroke-width="0.5"/>
<line x1="402.8" y1="329.3" x2="402.8" y2="330.2" stroke="#555" stroke-width="0.5"/>
<line x1="405.2" y1="329.3" x2="405.2" y2="330.2" stroke="#555" stroke-width="0.5"/>
<line x1="407.6" y1="329.3" x2="407.6" y2="330.2" stroke="#555" stroke-width="0.5"/>
<line x1="409.9" y1="329.3" x2="409.9" y2="330.2" stroke="#555" stroke-width="0.5"/>
<line x1="412.3" y1="329.3" x2="412.3" y2="331.1" stroke="#555" stroke-width="0.5"/>
<line x1="414.7" y1="329.3" x2="414.7" y2="330.2" stroke="#555" stroke-width="0.5"/>
<line x1="417.0" y1="329.3" x2="417.0" y2="330.2" stroke="#555" stroke-width="0.5"/>
<line x1="419.4" y1="329.3" x2="419.4" y2="330.2" stroke="#555" stroke-width="0.5"/>
<line x1="421.8" y1="329.3" x2="421.8" y2="330.2" stroke="#555" stroke-width="0.5"/>
<line x1="424.2" y1="329.3" x2="424.2" y2="330.2" stroke="#555" stroke-width="0.5"/>
<line x1="426.5" y1="329.3" x2="426.5" y2="330.2" stroke="#555" stroke-width="0.5"/>
<line x1="428.9" y1="329.3" x2="428.9" y2="330.2" stroke="#555" stroke-width="0.5"/>
<line x1="431.3" y1="329.3" x2="431.3" y2="330.2" stroke="#555" stroke-width="0.5"/>
<line x1="433.6" y1="329.3" x2="433.6" y2="330.2" stroke="#555" stroke-width="0.5"/>
<line x1="436.0" y1="329.3" x2="436.0" y2="331.1" stroke="#555" stroke-width="0.5"/>
<line x1="438.4" y1="329.3" x2="438.4" y2="330.2" stroke="#555" stroke-width="0.5"/>
<line x1="440.7" y1="329.3" x2="440.7" y2="330.2" stroke="#555" stroke-width="0.5"/>
<line x1="443.1" y1="329.3" x2="443.1" y2="330.2" stroke="#555" stroke-width="0.5"/>
<line x1="445.5" y1="329.3" x2="445.5" y2="330.2" stroke="#555" stroke-width="0.5"/>
<line x1="447.9" y1="329.3" x2="447.9" y2="330.2" stroke="#555" stroke-width="0.5"/>
<line x1="450.2" y1="329.3" x2="450.2" y2="330.2" stroke="#555" stroke-width="0.5"/>
<line x1="452.6" y1="329.3" x2="452.6" y2="330.2" stroke="#555" stroke-width="0.5"/>
<line x1="455.0" y1="329.3" x2="455.0" y2="330.2" stroke="#555" stroke-width="0.5"/>
<line x1="457.3" y1="329.3" x2="457.3" y2="330.2" stroke="#555" stroke-width="0.5"/>
<line x1="459.7" y1="329.3" x2="459.7" y2="331.1" stroke="#555" stroke-width="0.5"/>
<line x1="462.1" y1="329.3" x2="462.1" y2="330.2" stroke="#555" stroke-width="0.5"/>
<line x1="464.4" y1="329.3" x2="464.4" y2="330.2" stroke="#555" stroke-width="0.5"/>
<line x1="466.8" y1="329.3" x2="466.8" y2="330.2" stroke="#555" stroke-width="0.5"/>
<line x1="469.2" y1="329.3" x2="469.2" y2="330.2" stroke="#555" stroke-width="0.5"/>
<line x1="471.6" y1="329.3" x2="471.6" y2="330.2" stroke="#555" stroke-width="0.5"/>
<line x1="473.9" y1="329.3" x2="473.9" y2="330.2" stroke="#555" stroke-width="0.5"/>
<line x1="476.3" y1="329.3" x2="476.3" y2="330.2" stroke="#555" stroke-width="0.5"/>
<line x1="478.7" y1="329.3" x2="478.7" y2="330.2" stroke="#555" stroke-width="0.5"/>
<line x1="481.0" y1="329.3" x2="481.0" y2="330.2" stroke="#555" stroke-width="0.5"/>
<line x1="483.4" y1="329.3" x2="483.4" y2="331.1" stroke="#555" stroke-width="0.5"/>
<line x1="485.8" y1="329.3" x2="485.8" y2="330.2" stroke="#555" stroke-width="0.5"/>
<line x1="488.1" y1="329.3" x2="488.1" y2="330.2" stroke="#555" stroke-width="0.5"/>
<line x1="490.5" y1="329.3" x2="490.5" y2="330.2" stroke="#555" stroke-width="0.5"/>
<line x1="492.9" y1="329.3" x2="492.9" y2="330.2" stroke="#555" stroke-width="0.5"/>
<line x1="495.2" y1="329.3" x2="495.2" y2="330.2" stroke="#555" stroke-width="0.5"/>
<line x1="497.6" y1="329.3" x2="497.6" y2="330.2" stroke="#555" stroke-width="0.5"/>
<line x1="500.0" y1="329.3" x2="500.0" y2="330.2" stroke="#555" stroke-width="0.5"/>
<line x1="502.4" y1="329.3" x2="502.4" y2="330.2" stroke="#555" stroke-width="0.5"/>
<line x1="504.7" y1="329.3" x2="504.7" y2="330.2" stroke="#555" stroke-width="0.5"/>
<line x1="507.1" y1="329.3" x2="507.1" y2="331.1" stroke="#555" stroke-width="0.5"/>
<line x1="509.5" y1="329.3" x2="509.5" y2="330.2" stroke="#555" stroke-width="0.5"/>
<line x1="511.8" y1="329.3" x2="511.8" y2="330.2" stroke="#555" stroke-width="0.5"/>
<line x1="514.2" y1="329.3" x2="514.2" y2="330.2" stroke="#555" stroke-width="0.5"/>
<line x1="516.6" y1="329.3" x2="516.6" y2="330.2" stroke="#555" stroke-width="0.5"/>
<line x1="519.0" y1="329.3" x2="519.0" y2="330.2" stroke="#555" stroke-width="0.5"/>
<line x1="521.3" y1="329.3" x2="521.3" y2="330.2" stroke="#555" stroke-width="0.5"/>
<line x1="523.7" y1="329.3" x2="523.7" y2="330.2" stroke="#555" stroke-width="0.5"/>
<line x1="526.1" y1="329.3" x2="526.1" y2="330.2" stroke="#555" stroke-width="0.5"/>
<line x1="528.4" y1="329.3" x2="528.4" y2="330.2" stroke="#555" stroke-width="0.5"/>
<line x1="530.8" y1="329.3" x2="530.8" y2="331.1" stroke="#555" stroke-width="0.5"/>
<line x1="533.2" y1="329.3" x2="533.2" y2="330.2" stroke="#555" stroke-width="0.5"/>
<text x="388.6" y="334.3" font-family='"Liberation Serif", serif' font-size="3.8" font-weight="bold" text-anchor="middle" fill="#333">0</text>
<text x="412.3" y="334.3" font-family='"Liberation Serif", serif' font-size="3.8" font-weight="bold" text-anchor="middle" fill="#333">1</text>
<text x="436.0" y="334.3" font-family='"Liberation Serif", serif' font-size="3.8" font-weight="bold" text-anchor="middle" fill="#333">2</text>
<text x="459.7" y="334.3" font-family='"Liberation Serif", serif' font-size="3.8" font-weight="bold" text-anchor="middle" fill="#333">3</text>
<text x="483.4" y="334.3" font-family='"Liberation Serif", serif' font-size="3.8" font-weight="bold" text-anchor="middle" fill="#333">4</text>
<text x="507.1" y="334.3" font-family='"Liberation Serif", serif' font-size="3.8" font-weight="bold" text-anchor="middle" fill="#333">5</text>
<text x="530.8" y="334.3" font-family='"Liberation Serif", serif' font-size="3.8" font-weight="bold" text-anchor="middle" fill="#333">6</text>
<text x="399.6" y="214.6" font-family='"Liberation Serif", serif' font-size="7.8" font-weight="normal" text-anchor="start" fill="#111" style="stroke-width:0.15px">a</text>
<text x="393.1" y="237.3" font-family='"Liberation Serif", serif' font-size="8.4" font-weight="normal" text-anchor="start" fill="#111" style="stroke-width:0.15px">C</text>
<text x="407" y="298.1" font-family='"Liberation Serif", serif' font-size="8" font-weight="normal" text-anchor="start" fill="#111" textLength="8.8" lengthAdjust="spacingAndGlyphs" style="stroke-width:0.15px">Cu</text>
<text x="456.6" y="204.4" font-family='"Liberation Serif", serif' font-size="8" font-weight="normal" text-anchor="start" fill="#111" textLength="9.9" lengthAdjust="spacingAndGlyphs" style="stroke-width:0.15px">Ag</text>
<text x="447.6" y="315.2" font-family='"Liberation Serif", serif' font-size="7.6" font-weight="normal" text-anchor="start" fill="#111" textLength="9.1" lengthAdjust="spacingAndGlyphs" style="stroke-width:0.15px">Ag</text>
<path d="M391.2,327.2 L391.5,306.2 L391.9,327.0 L392.1,325.9 L392.5,326.2 L393.4,305.1 L394.3,262.0 L395.0,238.6 L395.7,261.9 L396.3,300.2 L397.0,320.9 L397.1,322.3 L397.5,323.2 L397.9,323.2 L398.0,323.7 L398.4,323.7 L398.9,321.0 L399.3,321.6 L399.5,321.2 L400.5,316.8 L401.5,321.2 L401.6,321.8 L402.0,323.1 L402.4,321.8 L402.5,322.3 L402.9,323.4 L403.4,323.2 L403.8,321.6 L404.2,320.1 L404.5,321.3 L404.7,322.1 L405.1,320.8 L405.6,323.4 L406.0,321.9 L406.1,320.6 L406.5,322.0 L406.9,320.5 L407.2,321.0 L407.4,321.8 L407.9,319.2 L408.3,318.1 L409.5,307.1 L410.6,301.0 L411.6,307.3 L412.5,311.7 L412.8,312.1 L413.2,314.1 L413.4,313.9 L414.5,320.1 L415.6,323.8 L415.9,326.2 L416.4,325.8 L416.8,326.3 L416.9,327.1 L417.3,325.2 L417.8,324.1 L418.2,324.7 L418.6,322.8 L419.0,323.5 L419.1,325.1 L419.6,324.7 L420.0,322.3 L420.4,325.4 L420.9,322.7 L421.4,324.1 L421.8,326.5 L422.0,325.1 L422.2,324.2 L422.7,324.5 L423.1,324.5 L423.6,323.5 L424.1,326.8 L424.5,323.1 L424.9,324.5 L425.4,325.7 L425.9,324.4 L426.3,326.6 L426.8,323.7 L427.2,326.5 L427.6,326.1 L428.1,325.3 L428.6,326.1 L429.0,324.4 L429.4,325.8 L429.9,325.6 L430.0,324.5 L430.4,324.4 L430.8,325.3 L431.2,324.2 L431.7,323.0 L432.1,325.5 L432.6,323.7 L433.1,324.6 L433.5,325.8 L433.9,323.5 L434.4,322.9 L434.9,323.3 L435.3,325.1 L435.8,324.3 L436.2,323.9 L436.6,324.6 L437.1,326.5 L437.6,323.9 L438.0,324.6 L438.4,326.4 L438.9,325.4 L439.4,324.1 L439.8,324.9 L440.0,325.0 L440.2,323.6 L440.7,324.4 L441.1,324.0 L441.6,325.8 L442.1,323.9 L442.5,325.1 L442.9,326.2 L443.4,325.9 L443.9,323.8 L444.3,324.5 L444.8,323.4 L445.0,323.9 L445.2,323.9 L445.6,325.0 L446.1,325.4 L446.6,322.9 L447.0,321.7 L447.4,323.3 L447.9,321.7 L448.4,321.5 L448.8,324.3 L449.2,321.7 L449.7,323.9 L450.0,322.9 L450.1,324.5 L450.6,323.7 L451.1,320.3 L451.5,320.3 L451.9,322.8 L452.4,321.0 L452.9,319.9 L453.0,320.2 L454.0,316.7 L454.2,317.0 L454.6,318.1 L455.1,317.9 L455.5,320.4 L455.6,319.1 L456.0,320.6 L456.4,320.2 L456.9,318.1 L457.4,319.6 L457.5,318.8 L458.4,299.8 L459.2,255.1 L460.0,205.5 L460.8,250.2 L461.5,298.1 L462.7,291.1 L463.7,281.3 L464.6,291.2 L465.5,304.8 L466.6,315.1 L466.8,316.6 L467.2,316.5 L467.7,316.5 L468.1,314.8 L468.6,315.1 L470.0,320.2 L470.4,319.0 L470.9,322.5 L471.3,322.9 L471.8,321.5 L472.0,322.2 L472.2,322.0 L472.6,321.8 L473.1,323.9 L473.6,321.9 L474.0,325.1 L474.4,326.3 L474.9,324.1 L475.0,325.3 L475.4,323.4 L475.8,326.4 L476.2,324.3 L476.7,326.9 L477.1,324.9 L477.6,326.8 L478.1,323.5 L478.5,323.7 L478.9,326.5 L479.4,325.9 L479.9,325.6 L480.3,323.7 L480.8,324.3 L481.2,325.0 L481.6,323.9 L482.1,327.5 L482.6,326.7 L483.0,327.4 L483.4,326.5 L483.9,325.2 L484.4,324.2 L484.8,326.7 L485.2,324.4 L485.7,326.1 L486.1,325.8 L486.6,326.0 L487.1,324.4 L487.5,324.5 L487.9,326.2 L488.4,324.4 L488.9,326.3 L489.3,324.9 L489.8,325.4 L490.0,326.1 L490.2,326.6 L490.6,325.9 L491.1,325.2 L491.6,325.2 L492.0,326.5 L492.4,327.9 L492.9,326.0 L493.4,325.0 L493.8,325.6 L494.2,325.3 L494.7,326.6 L495.1,327.4 L495.6,326.6 L496.1,325.1 L496.5,325.6 L496.9,325.8 L497.4,326.1 L497.9,325.9 L498.3,328.2 L498.8,326.5 L499.2,326.9 L499.6,327.1 L500.1,326.9 L500.6,327.5 L501.0,325.8 L501.4,326.9 L501.9,328.1 L502.4,325.0 L502.8,326.8 L503.2,325.9 L503.7,324.6 L504.1,324.6 L504.6,327.3 L505.1,324.8 L505.5,327.1 L505.9,324.8 L506.4,325.8 L506.9,324.5 L507.3,326.5 L507.8,327.4 L508.2,325.3 L508.6,326.5 L509.1,327.9 L509.6,325.5 L510.0,326.3 L510.4,327.1 L510.9,327.7 L511.4,325.0 L511.8,326.9 L512.2,324.8 L512.7,324.7 L513.1,328.0 L513.6,324.5 L514.0,327.8 L514.5,327.1 L515.0,326.8 L515.4,327.0 L515.9,326.7 L516.3,325.3 L516.8,325.9 L517.2,325.0 L517.6,327.4 L518.1,327.1 L518.5,327.1 L519.0,325.0 L519.5,326.4 L519.9,325.1 L520.4,327.1 L520.8,326.9 L521.2,327.9 L521.7,326.8 L522.1,326.7 L522.6,327.0 L523.0,324.4 L523.5,326.3 L524.0,324.1 L524.4,325.4 L524.9,324.4 L525.3,327.6 L525.8,324.1 L526.2,327.4 L526.6,327.5 L527.1,325.6 L527.5,327.1 L528.0,324.1 L528.5,324.4 L528.9,323.9 L529.4,324.1 L529.8,323.8 L530.2,327.0 L530.7,324.1 L531.1,326.0 L531.6,324.8 L532.0,324.3 L532.5,325.4 L533.0,324.4 L533.4,327.4 L533.9,325.2 L534.3,326.0 L534.8,325.8 L535.2,326.1 L535.6,325.5 L536.1,324.7 L536.5,324.2 L537.0,327.0 L537.5,324.3 L537.9,325.3 L538.0,325.7" fill="none" stroke="#505050" stroke-width="0.9" stroke-linejoin="round"/>
</svg>
</body></html>
